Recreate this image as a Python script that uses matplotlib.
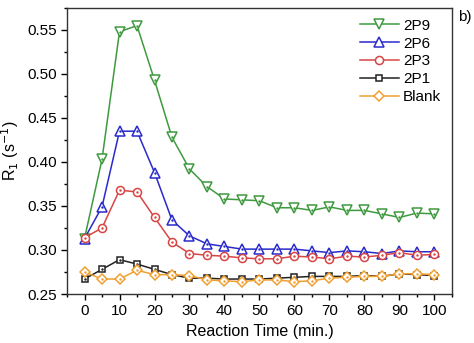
import numpy as np
import matplotlib
matplotlib.use("Agg")
import matplotlib.pyplot as plt
from matplotlib.ticker import MultipleLocator

plt.rcParams['font.family'] = ['Liberation Sans', 'DejaVu Sans']

# data
time = [0, 5, 10, 15, 20, 25, 30, 35, 40, 45, 50, 55, 60, 65, 70, 75, 80, 85, 90, 95, 100]
r_2p9 = [0.313, 0.403, 0.548, 0.555, 0.493, 0.428, 0.392, 0.372, 0.358, 0.357, 0.356, 0.348,
         0.348, 0.345, 0.349, 0.345, 0.345, 0.341, 0.337, 0.342, 0.341]
r_2p6 = [0.313, 0.349, 0.435, 0.435, 0.388, 0.334, 0.316, 0.307, 0.304, 0.301, 0.301, 0.301,
         0.301, 0.299, 0.297, 0.299, 0.298, 0.296, 0.299, 0.298, 0.298]
r_2p3 = [0.314, 0.325, 0.368, 0.366, 0.337, 0.309, 0.296, 0.294, 0.293, 0.291, 0.290, 0.290,
         0.293, 0.292, 0.290, 0.293, 0.292, 0.294, 0.297, 0.294, 0.295]
r_2p1 = [0.267, 0.278, 0.289, 0.284, 0.278, 0.272, 0.268, 0.268, 0.267, 0.267, 0.267, 0.268,
         0.269, 0.270, 0.270, 0.270, 0.271, 0.270, 0.273, 0.272, 0.271]
r_blank = [0.275, 0.267, 0.267, 0.277, 0.272, 0.272, 0.271, 0.266, 0.265, 0.264, 0.266, 0.266,
           0.264, 0.265, 0.268, 0.269, 0.270, 0.270, 0.273, 0.273, 0.272]

series = [
    ("2P9", r_2p9, "#3f9a3f", "v", 6.8),
    ("2P6", r_2p6, "#2a2acc", "^", 6.8),
    ("2P3", r_2p3, "#d84545", "o", 5.8),
    ("2P1", r_2p1, "#222222", "s", 5.0),
    ("Blank", r_blank, "#f0a030", "D", 4.8),
]

fig = plt.figure(figsize=(4.74, 3.43), dpi=100)
ax = fig.add_axes([67 / 474, 1 - 294 / 343, (452 - 67) / 474, (294 - 8) / 343])

for name, vals, col, mk, ms in series:
    ax.plot(time, vals, color=col, lw=1.1, marker=mk, ms=ms, mfc="white",
            mec=col, mew=1.1, label=name)
    ax.plot(time, vals, ls="none", marker=".", ms=1.5, color=col)

ax.set_xlim(-5, 105)
ax.set_ylim(0.25, 0.575)
ax.xaxis.set_major_locator(MultipleLocator(10))
ax.xaxis.set_minor_locator(MultipleLocator(5))
ax.yaxis.set_major_locator(MultipleLocator(0.05))
ax.yaxis.set_minor_locator(MultipleLocator(0.025))
ax.tick_params(which="both", direction="out", top=False, right=False, labelsize=11)
ax.tick_params(which="major", length=4, width=1)
ax.tick_params(which="minor", length=2.5, width=1)
for sp in ax.spines.values():
    sp.set_linewidth(1.0)
    sp.set_color("#333333")

ax.set_xlabel("Reaction Time (min.)", fontsize=11.5)
ax.set_ylabel("R$_1$ (s$^{-1}$)", fontsize=11.5)

ax.legend(loc="upper right", frameon=False, fontsize=11, handlelength=2.5,
          handletextpad=0.3, labelspacing=0.25, borderaxespad=0.3)

fig.text(0.966, 0.95, "b)", fontsize=11, ha="left", va="center")

fig.savefig("out.png", dpi=100)
